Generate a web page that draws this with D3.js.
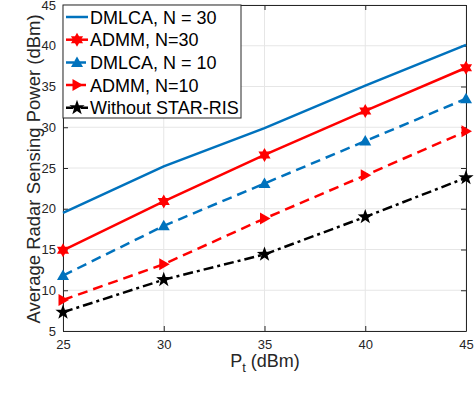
<!DOCTYPE html>
<html>
<head>
<meta charset="utf-8">
<script src="https://cdn.jsdelivr.net/npm/d3@7"></script>
<style>
  body { margin: 0; background: #fff; }
  svg { display: block; font-family: "Liberation Sans", Arial, sans-serif; }
</style>
</head>
<body>
<svg id="vis" width="474" height="399"></svg>
<script>
// data
const pt = [25, 30, 35, 40, 45];
const dmlca30 = [19.5, 25.2, 29.9, 35.1, 40.1];
const admm30 = [14.9, 20.9, 26.6, 32.0, 37.3];
const dmlca10 = [11.8, 17.9, 23.1, 28.3, 33.5];
const admm10 = [8.8, 13.2, 18.8, 24.1, 29.5];
const noRis = [7.3, 11.3, 14.4, 19.0, 23.8];

const xTicks = [25, 30, 35, 40, 45];
const yTicks = [5, 10, 15, 20, 25, 30, 35, 40, 45];

const series = [
  { name: "DMLCA, N = 30", vals: dmlca30, color: "#0072BD", dash: null, marker: null },
  { name: "ADMM, N=30", vals: admm30, color: "#FF0000", dash: null, marker: "hexagram" },
  { name: "DMLCA, N = 10", vals: dmlca10, color: "#0072BD", dash: "10,6", marker: "triangle" },
  { name: "ADMM, N=10", vals: admm10, color: "#FF0000", dash: "10,6", marker: "triright" },
  { name: "Without STAR-RIS", vals: noRis, color: "#000000", dash: "10,4,3,4", marker: "pentagram" }
];

const svg = d3.select("#vis");
const m = { left: 63, right: 466, top: 5, bottom: 331 };

const x = d3.scaleLinear().domain([25, 45]).range([m.left, m.right]);
const y = d3.scaleLinear().domain([5, 45]).range([m.bottom, m.top]);

// grid
const grid = svg.append("g");
grid.selectAll("line.gx").data(xTicks).join("line")
  .attr("x1", d => x(d)).attr("x2", d => x(d))
  .attr("y1", m.top).attr("y2", m.bottom)
  .attr("stroke", "#e6e6e6").attr("stroke-width", 1);
grid.selectAll("line.gy").data(yTicks).join("line")
  .attr("y1", d => y(d)).attr("y2", d => y(d))
  .attr("x1", m.left).attr("x2", m.right)
  .attr("stroke", "#e6e6e6").attr("stroke-width", 1);

// axes (ticks inside, box)
const axisCol = "#262626";
const gx = svg.append("g").attr("transform", `translate(0,${m.bottom})`)
  .call(d3.axisBottom(x).tickValues(xTicks).tickSizeInner(-5).tickSizeOuter(0).tickPadding(9));
const gxTop = svg.append("g").attr("transform", `translate(0,${m.top})`)
  .call(d3.axisTop(x).tickValues(xTicks).tickSizeInner(-5).tickSizeOuter(0).tickFormat(""));
const gy = svg.append("g").attr("transform", `translate(${m.left},0)`)
  .call(d3.axisLeft(y).tickValues(yTicks).tickSizeInner(-5).tickSizeOuter(0).tickPadding(7));
const gyR = svg.append("g").attr("transform", `translate(${m.right},0)`)
  .call(d3.axisRight(y).tickValues(yTicks).tickSizeInner(-5).tickSizeOuter(0).tickFormat(""));

[gx, gxTop, gy, gyR].forEach(g => {
  g.select(".domain").attr("stroke", axisCol).attr("stroke-width", 1);
  g.selectAll(".tick line").attr("stroke", axisCol);
  g.selectAll(".tick text").attr("fill", axisCol).attr("font-size", 13)
    .attr("font-family", "Liberation Sans, Arial, sans-serif");
});

// markers
const star = (n, ro, ri) => {
  const pts = [];
  for (let i = 0; i < 2 * n; i++) {
    const r = i % 2 === 0 ? ro : ri;
    const a = -Math.PI / 2 + i * Math.PI / n;
    pts.push([r * Math.cos(a), r * Math.sin(a)]);
  }
  return "M" + pts.map(p => p.join(",")).join("L") + "Z";
};
const markerPath = {
  hexagram: star(6, 7, 4),
  pentagram: star(5, 8, 3.2),
  triangle: "M0,-6L6,4.5L-6,4.5Z",
  triright: "M6,0L-4.5,-6L-4.5,6Z"
};

const line = d3.line().x((d, i) => x(pt[i])).y(d => y(d));

const plot = svg.append("g");
series.forEach(s => {
  plot.append("path")
    .attr("d", line(s.vals))
    .attr("fill", "none")
    .attr("stroke", s.color)
    .attr("stroke-width", 2.5)
    .attr("stroke-dasharray", s.dash);
  if (s.marker) {
    plot.selectAll(null).data(s.vals).join("path")
      .attr("transform", (d, i) => `translate(${x(pt[i])},${y(d)})`)
      .attr("d", markerPath[s.marker])
      .attr("fill", s.color);
  }
});

// legend
const lg = svg.append("g");
lg.append("rect")
  .attr("x", m.left).attr("y", m.top)
  .attr("width", 178).attr("height", 113)
  .attr("fill", "#fff").attr("stroke", axisCol).attr("stroke-width", 1);
series.forEach((s, i) => {
  const ly = 17 + i * 22.7;
  lg.append("line")
    .attr("x1", 66).attr("x2", 88).attr("y1", ly).attr("y2", ly)
    .attr("stroke", s.color).attr("stroke-width", 2.5)
    .attr("stroke-dasharray", s.dash ? (s.marker === "pentagram" ? "7,3,2,3" : "8,4") : null);
  if (s.marker) {
    lg.append("path")
      .attr("transform", `translate(77,${ly})`)
      .attr("d", markerPath[s.marker])
      .attr("fill", s.color);
  }
  lg.append("text")
    .attr("x", 90).attr("y", ly + 6.5)
    .attr("font-size", 18).attr("fill", "#000")
    .text(s.name);
});

// axis titles
svg.append("text")
  .attr("transform", `translate(40,169) rotate(-90)`)
  .attr("text-anchor", "middle")
  .attr("font-size", 18.5).attr("fill", axisCol)
  .text("Average Radar Sensing Power (dBm)");

const xt = svg.append("text")
  .attr("x", 265).attr("y", 367)
  .attr("text-anchor", "middle")
  .attr("font-size", 18).attr("fill", axisCol);
xt.append("tspan").text("P");
xt.append("tspan").attr("dy", 5).attr("font-size", 13).text("t");
xt.append("tspan").attr("dy", -5).text(" (dBm)");
</script>
</body>
</html>
